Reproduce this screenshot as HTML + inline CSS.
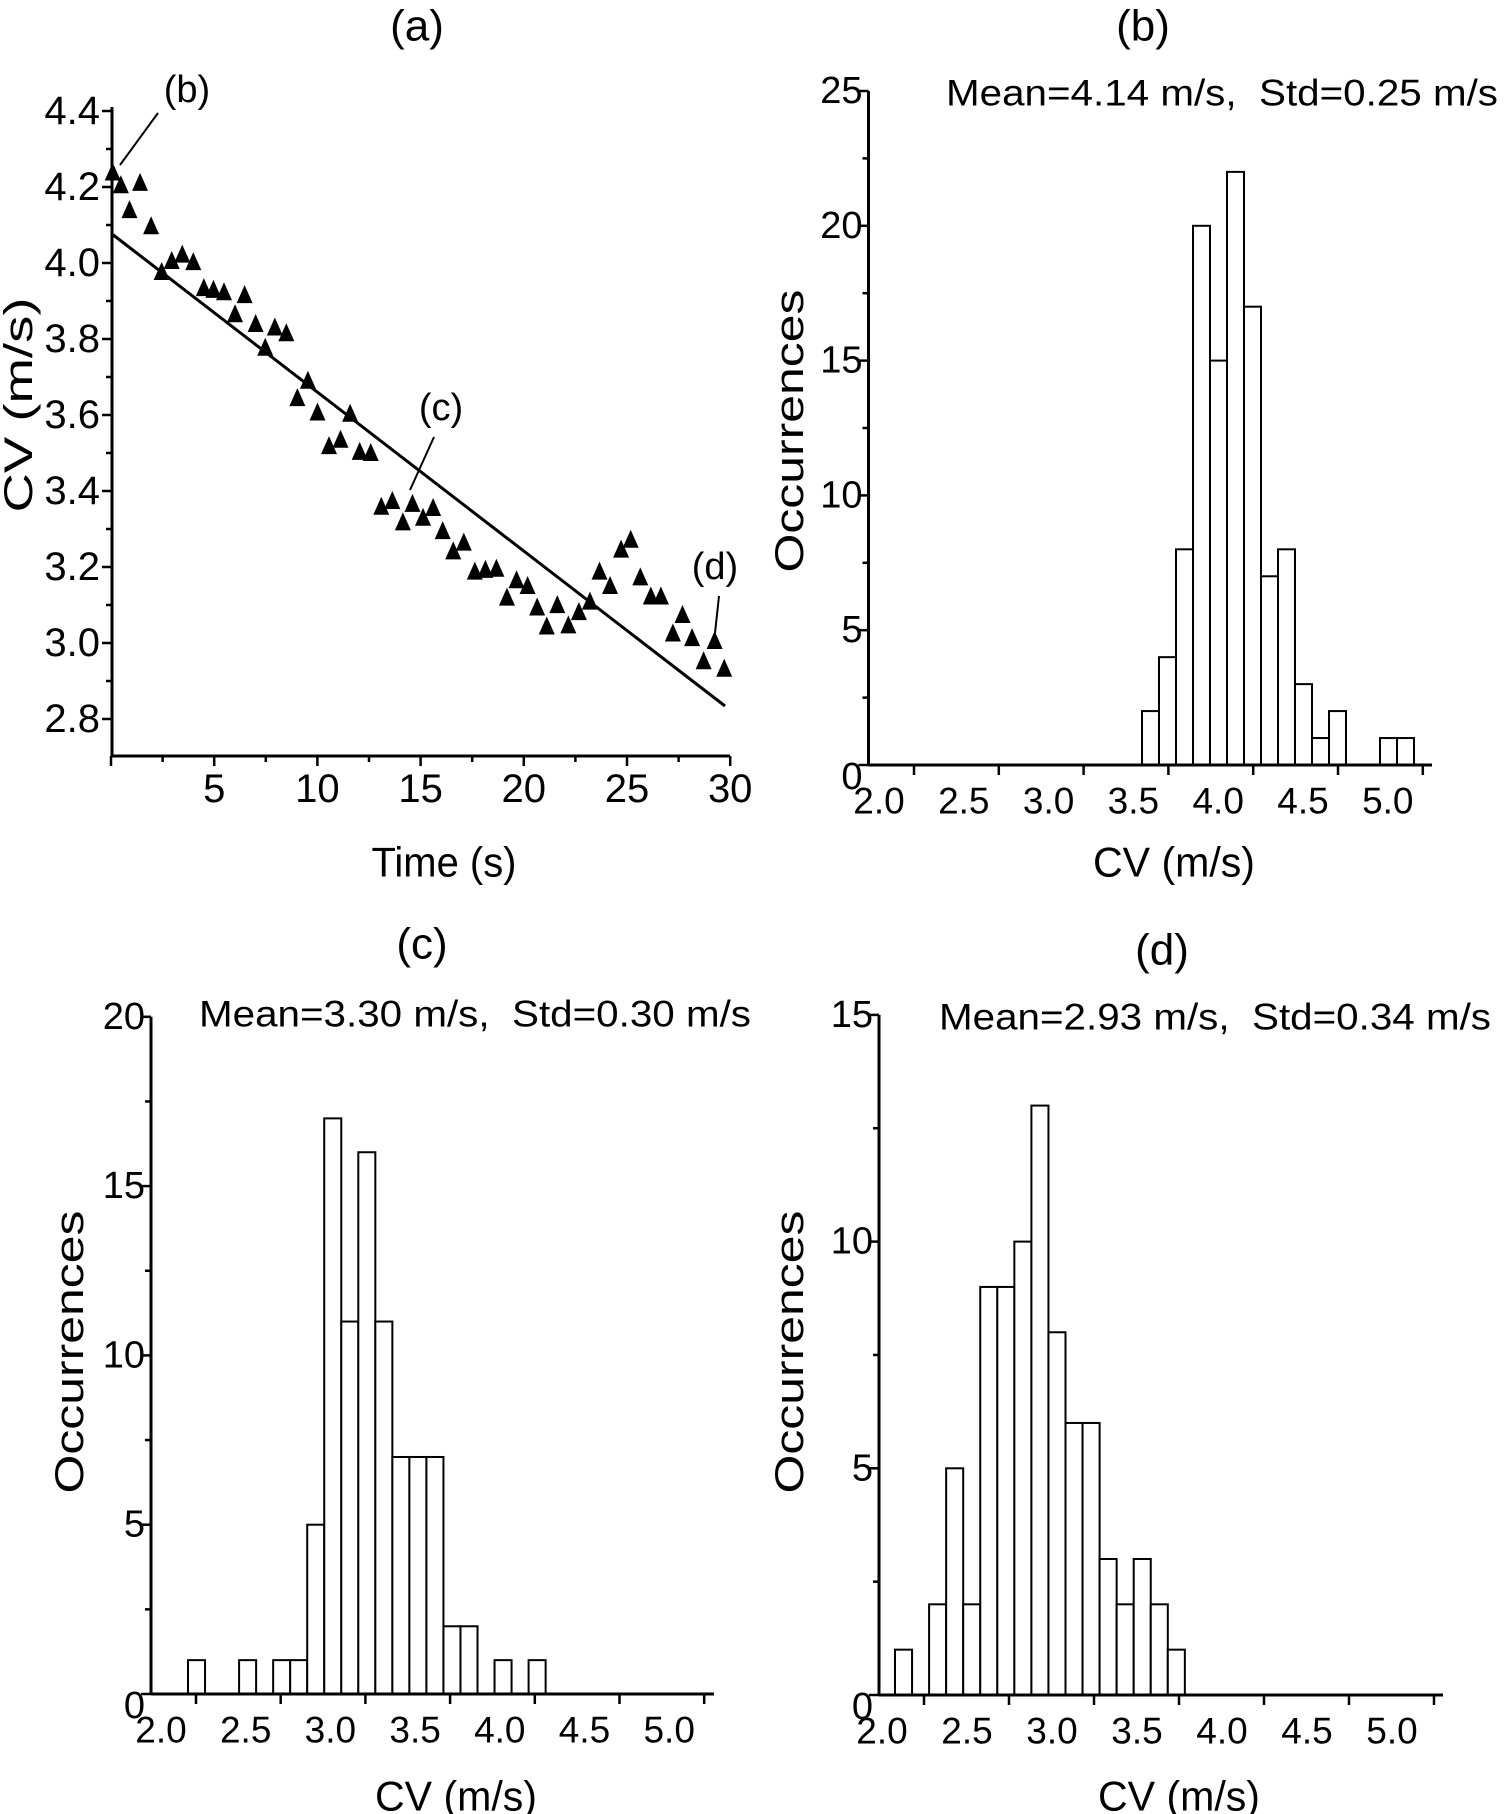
<!DOCTYPE html>
<html><head><meta charset="utf-8">
<style>
html,body{margin:0;padding:0;background:#fff;}
svg{display:block;font-family:"Liberation Sans",Arial,sans-serif;}
</style></head>
<body>
<svg id="s" width="1504" height="1814" viewBox="0 0 1504 1814" xmlns="http://www.w3.org/2000/svg">
<rect width="1504" height="1814" fill="#fff"/>
<g id="g" fill="#000" stroke="none"></g>
</svg>
<script>
var NS="http://www.w3.org/2000/svg",G=document.getElementById('g');
function el(t,a,txt){var e=document.createElementNS(NS,t);for(var k in a)e.setAttribute(k,a[k]);if(txt!=null)e.textContent=txt;G.appendChild(e);return e;}
function line(x1,y1,x2,y2,w){el('line',{x1:x1,y1:y1,x2:x2,y2:y2,stroke:'#000','stroke-width':w||2.5});}
function text(x,y,s,size,anchor,extra){var a={x:x,y:y,'font-size':size,'text-anchor':anchor||'middle','dominant-baseline':'central'};if(extra)for(var k in extra)a[k]=extra[k];el('text',a,s);}
var ZX=2.085, ZY=1.729;
// ---------- Panel (a)
var ax=112, ay0=111, ayb=756, axr=730;
line(ax,ay0-4,ax,ayb,3); line(ax,ayb,axr,ayb,3);
for(var i=0;i<=17;i++){var y=ay0+38*i; if(y>ayb)break; var major=i%2==0; line(ax-(major?10:6),y,ax,y,2.5);
 if(major){var v=(4.4-0.1*i).toFixed(1); text(100,y,v,40,'end');}}
for(var t=0;t<=30;t+=2.5){var x=111+t*20.64; line(x,ayb,x,ayb+(t%5==0?10:6),2.5); if(t%5==0&&t>0) text(x,789,String(t),40);}
text(444,862,'Time (s)',42,'middle',{textLength:145,lengthAdjust:'spacingAndGlyphs'});
text(19,405,'CV (m/s)',40,'middle',{transform:'rotate(-90 19 405)',textLength:215,lengthAdjust:'spacingAndGlyphs'});
text(417,26,'(a)',44);
line(112,234,725,706,3);
var pts=[[235,300],[252,322],[270,365],[292,318],[315,393],[337,472],[358,453],[380,442],[403,455],[425,500],[445,503],[467,507],[490,545],[510,512],[533,562],[553,603],[573,568],[597,578],[620,690],[642,660],[662,715],[686,773],[710,762],[730,717],[750,783],[773,785],[795,878],[818,868],[840,905],[860,873],[882,897],[903,880],[923,920],[945,955],[967,940],[990,990],[1012,987],[1035,985],[1057,1035],[1077,1005],[1100,1015],[1120,1052],[1140,1085],[1162,1048],[1185,1083],[1207,1060],[1230,1042],[1250,990],[1272,1015],[1295,952],[1315,935],[1335,1000],[1357,1033],[1378,1033],[1403,1097],[1423,1065],[1443,1105],[1467,1145],[1490,1110],[1510,1158]];
pts.forEach(function(p){var x=p[0]/ZX,y=p[1]/ZY;el('polygon',{points:(x)+','+(y-11)+' '+(x-8)+','+(y+7)+' '+(x+8)+','+(y+7)});});
line(120,165,158,113,2); text(187,90,'(b)',38);
line(410,490,434,437,2); text(441,408,'(c)',38);
line(715,633,719,596,2); text(715,567,'(d)',38);
// ---------- Histograms
function hist(o){
 var yax=o.ax, y0=o.y0, per5=o.per5, ymaxv=o.ymax;
 var ytop=y0-per5*ymaxv/5;
 line(yax,ytop,yax,y0,3); line(yax,y0,o.xr,y0,3);
 for(var v=0;v<=ymaxv;v+=2.5){var y=y0-per5*v/5; line(yax-(v%5==0?10:6),y,yax,y,2.5); if(v%5==0){ text(yax-6,v==0?y+12:y,String(v),38,'end');}}
 var labs=['2.0','2.5','3.0','3.5','4.0','4.5','5.0'];
 for(var i=0;i<7;i++){var x=o.t0+i*o.tstep; line(x,y0,x,y0+10,2.5); text(x-o.loff,y0+36,labs[i],37);}
 o.counts.forEach(function(c,i){ if(!c)return; var x=o.b0+i*o.bw; el('rect',{x:x,y:y0-per5*c/5,width:o.bw,height:per5*c/5,fill:'#fff',stroke:'#000','stroke-width':2});});
 line(yax,y0,o.xr,y0,3);
 text(o.mx,o.my,o.mean,37,'start',{textLength:o.mw,lengthAdjust:'spacingAndGlyphs'});
 text(o.tx,o.ty,o.title,44);
 text(o.ox,o.oy,'Occurrences',40,'middle',{transform:'rotate(-90 '+o.ox+' '+o.oy+')',textLength:283,lengthAdjust:'spacingAndGlyphs'});
 text(o.cx,o.cy,'CV (m/s)',42,'middle',{textLength:162,lengthAdjust:'spacingAndGlyphs'});
}
var NB='\u00a0';
hist({ax:868.5,y0:765,per5:134.8,ymax:25,xr:1432,t0:914,tstep:84.8,loff:35,b0:1142,bw:17.0,
 counts:[2,4,8,20,15,22,17,7,8,3,1,2,0,0,1,1],mx:946,my:93,mw:552,mean:'Mean=4.14 m/s,'+NB+NB+'Std=0.25 m/s',
 tx:1143,ty:26,title:'(b)',ox:790,oy:431,cx:1174,cy:862});
hist({ax:151,y0:1694,per5:169.3,ymax:20,xr:714,t0:196,tstep:84.7,loff:35,b0:188,bw:17.03,
 counts:[1,0,0,1,0,1,1,5,17,11,16,11,7,7,7,2,2,0,1,0,1],mx:199,my:1014,mw:552,mean:'Mean=3.30 m/s,'+NB+NB+'Std=0.30 m/s',
 tx:422,ty:944,title:'(c)',ox:70,oy:1352,cx:456,cy:1796});
hist({ax:879,y0:1695,per5:226.7,ymax:15,xr:1443,t0:924,tstep:85,loff:42,b0:895,bw:17.05,
 counts:[1,0,2,5,2,9,9,10,13,8,6,6,3,2,3,2,1],mx:939,my:1017,mw:552,mean:'Mean=2.93 m/s,'+NB+NB+'Std=0.34 m/s',
 tx:1162,ty:950,title:'(d)',ox:790,oy:1352,cx:1179,cy:1796});
</script>
</body></html>
